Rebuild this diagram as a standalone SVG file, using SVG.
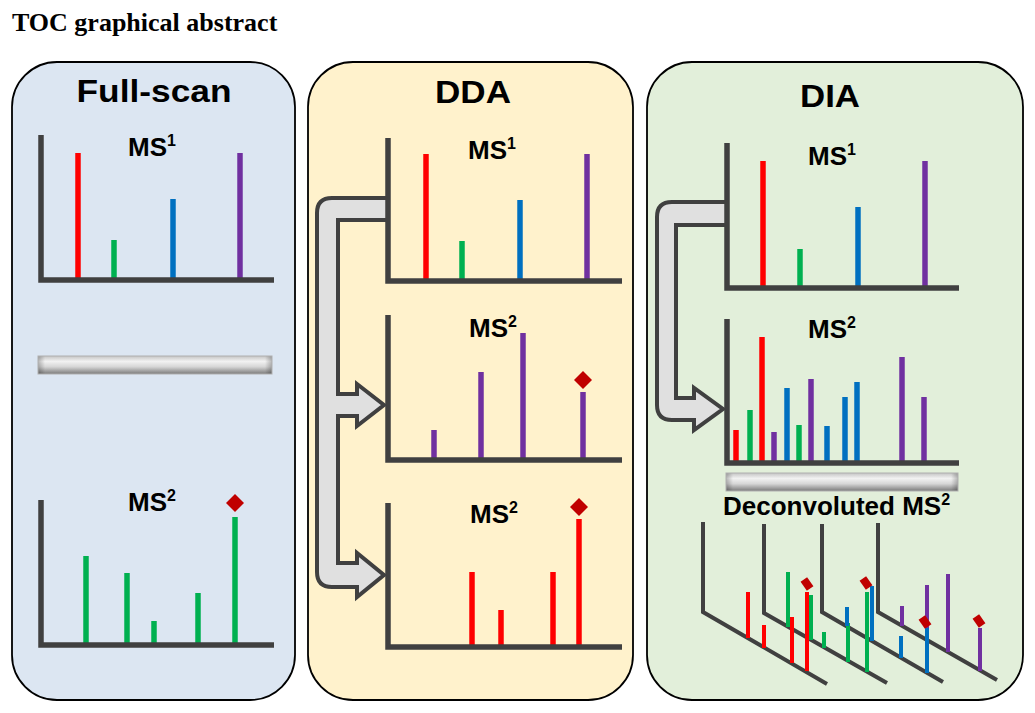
<svg xmlns="http://www.w3.org/2000/svg" width="1035" height="713" viewBox="0 0 1035 713">
<style>
.panel{stroke:#000;stroke-width:1.8}
.ptitle{font-family:"Liberation Sans",Arial,sans-serif;font-weight:bold;font-size:31px;fill:#000;text-anchor:middle}
.ms{font-family:"Liberation Sans",Arial,sans-serif;font-weight:bold;font-size:26px;fill:#000}
.sup{font-size:16px}
.axis{fill:none;stroke:#404040;stroke-width:5.5;stroke-linejoin:miter}
.axis3{fill:none;stroke:#404040;stroke-width:4;stroke-linejoin:miter}
.bar{stroke-width:5.5;fill:none}
.bar3{stroke-width:4;fill:none}
.r{stroke:#ff0000}.g{stroke:#00b050}.b{stroke:#0070c0}.p{stroke:#7030a0}
.dia{fill:#c00000}
.pipe{fill:#e0e0e0;stroke:#404040;stroke-width:4;stroke-linejoin:miter}
</style>
<defs>
<linearGradient id="cyl" x1="0" y1="0" x2="0" y2="1">
<stop offset="0" stop-color="#c4c4c4"/>
<stop offset="0.3" stop-color="#f2f2f2"/>
<stop offset="0.6" stop-color="#d6d6d6"/>
<stop offset="1" stop-color="#7a7a7a"/>
</linearGradient>
<linearGradient id="cylEnds" x1="0" y1="0" x2="1" y2="0">
<stop offset="0" stop-color="#000" stop-opacity="0.25"/>
<stop offset="0.03" stop-color="#000" stop-opacity="0"/>
<stop offset="0.97" stop-color="#000" stop-opacity="0"/>
<stop offset="1" stop-color="#000" stop-opacity="0.25"/>
</linearGradient>
<path id="dmd" d="M0,-9 L9,0 L0,9 L-9,0 Z"/>
</defs>
<rect width="1035" height="713" fill="#fff"/>
<text x="12" y="31" font-family="Liberation Serif,'Times New Roman',serif" font-weight="bold" font-size="26" fill="#000">TOC graphical abstract</text>

<g id="panel-fullscan">
<rect class="panel" x="12" y="62" width="283" height="638" rx="45" ry="45" fill="#dce6f2"/>
<text class="ptitle" x="154" y="102" textLength="155" lengthAdjust="spacingAndGlyphs">Full-scan</text>
</g>
<g id="panel-dda">
<rect class="panel" x="308" y="62" width="325" height="638" rx="45" ry="45" fill="#fff2cc"/>
<text class="ptitle" x="473" y="103" textLength="76" lengthAdjust="spacingAndGlyphs">DDA</text>
</g>
<g id="panel-dia">
<rect class="panel" x="647" y="62" width="376" height="638" rx="45" ry="45" fill="#e2efda"/>
<text class="ptitle" x="830" y="107" textLength="60" lengthAdjust="spacingAndGlyphs">DIA</text>
</g>

<g id="connectors">
<path class="pipe" d="M388,198 H332 Q317,198 317,213 V572 Q317,587 332,587 H357 V597 L384,575 L357,553 V563 H338 V416 H357 V426 L384,405 L357,384 V394 H338 V220 H388 Z"/>
<path class="pipe" d="M727,202 H672 Q657,202 657,217 V405 Q657,420 672,420 H694 V430 L723,409 L694,388 V398 H676 V225 H727 Z"/>
</g>

<g id="fs-ms1">
<text class="ms" x="128" y="156">MS<tspan class="sup" dy="-10">1</tspan></text>
<line class="bar r" x1="78" y1="153" x2="78" y2="278"/>
<line class="bar g" x1="114" y1="240" x2="114" y2="278"/>
<line class="bar b" x1="173" y1="199" x2="173" y2="278"/>
<line class="bar p" x1="240" y1="153" x2="240" y2="278"/>
<path class="axis" d="M41,135 V280 H274"/>
</g>
<g id="fs-column">
<rect x="38" y="356" width="234" height="18" fill="url(#cyl)"/>
<rect x="38" y="356" width="234" height="18" fill="url(#cylEnds)" stroke="#b0b0b0" stroke-width="1"/>
</g>
<g id="fs-ms2">
<text class="ms" x="128" y="511">MS<tspan class="sup" dy="-10">2</tspan></text>
<line class="bar g" x1="86" y1="556" x2="86" y2="643"/>
<line class="bar g" x1="127" y1="573" x2="127" y2="643"/>
<line class="bar g" x1="154" y1="621" x2="154" y2="643"/>
<line class="bar g" x1="198" y1="593" x2="198" y2="643"/>
<line class="bar g" x1="235" y1="517" x2="235" y2="643"/>
<use href="#dmd" class="dia" x="235" y="503"/>
<path class="axis" d="M41,500 V645 H274"/>
</g>

<g id="dda-ms1">
<text class="ms" x="468" y="159">MS<tspan class="sup" dy="-10">1</tspan></text>
<line class="bar r" x1="426" y1="154" x2="426" y2="279"/>
<line class="bar g" x1="462" y1="241" x2="462" y2="279"/>
<line class="bar b" x1="520" y1="200" x2="520" y2="279"/>
<line class="bar p" x1="587" y1="154" x2="587" y2="279"/>
<path class="axis" d="M388,138 V281 H622"/>
</g>
<g id="dda-ms2a">
<text class="ms" x="469" y="337">MS<tspan class="sup" dy="-10">2</tspan></text>
<line class="bar p" x1="434" y1="430" x2="434" y2="458"/>
<line class="bar p" x1="481" y1="372" x2="481" y2="458"/>
<line class="bar p" x1="523" y1="333" x2="523" y2="458"/>
<line class="bar p" x1="583" y1="392" x2="583" y2="458"/>
<use href="#dmd" class="dia" x="583" y="380"/>
<path class="axis" d="M388,315 V460 H622"/>
</g>
<g id="dda-ms2b">
<text class="ms" x="470" y="523">MS<tspan class="sup" dy="-10">2</tspan></text>
<line class="bar r" x1="472" y1="572" x2="472" y2="645"/>
<line class="bar r" x1="501" y1="610" x2="501" y2="645"/>
<line class="bar r" x1="553" y1="572" x2="553" y2="645"/>
<line class="bar r" x1="579" y1="519" x2="579" y2="645"/>
<use href="#dmd" class="dia" x="579" y="507"/>
<path class="axis" d="M388,503 V647 H622"/>
</g>

<g id="dia-ms1">
<text class="ms" x="808" y="165">MS<tspan class="sup" dy="-10">1</tspan></text>
<line class="bar r" x1="763" y1="161" x2="763" y2="286"/>
<line class="bar g" x1="800" y1="249" x2="800" y2="286"/>
<line class="bar b" x1="858" y1="207" x2="858" y2="286"/>
<line class="bar p" x1="925" y1="161" x2="925" y2="286"/>
<path class="axis" d="M727,143 V288 H959"/>
</g>
<g id="dia-ms2">
<text class="ms" x="808" y="338">MS<tspan class="sup" dy="-10">2</tspan></text>
<line class="bar r" x1="736" y1="430" x2="736" y2="461"/>
<line class="bar g" x1="750" y1="410" x2="750" y2="461"/>
<line class="bar r" x1="762" y1="337" x2="762" y2="461"/>
<line class="bar p" x1="774" y1="432" x2="774" y2="461"/>
<line class="bar b" x1="787" y1="388" x2="787" y2="461"/>
<line class="bar g" x1="799" y1="425" x2="799" y2="461"/>
<line class="bar p" x1="811" y1="379" x2="811" y2="461"/>
<line class="bar b" x1="827" y1="426" x2="827" y2="461"/>
<line class="bar b" x1="845" y1="397" x2="845" y2="461"/>
<line class="bar b" x1="857" y1="382" x2="857" y2="461"/>
<line class="bar p" x1="902" y1="357" x2="902" y2="461"/>
<line class="bar p" x1="924" y1="397" x2="924" y2="461"/>
<path class="axis" d="M727,319 V463 H959"/>
</g>
<g id="dia-column">
<rect x="726" y="473" width="232" height="18" fill="url(#cyl)"/>
<rect x="726" y="473" width="232" height="18" fill="url(#cylEnds)" stroke="#b0b0b0" stroke-width="1"/>
</g>
<g id="dia-deconvoluted">
<text class="ms" x="723" y="515" font-size="27">Deconvoluted MS<tspan class="sup" dy="-10">2</tspan></text>
<path class="axis3" d="M703,522 V612 L827,684"/>
<path class="axis3" d="M764,524 V613 L887,683"/>
<path class="axis3" d="M822,524 V612 L943,682"/>
<path class="axis3" d="M878,523 V612 L997,680"/>
<line class="bar3 r" x1="748" y1="592" x2="748" y2="638"/>
<line class="bar3 r" x1="764" y1="625" x2="764" y2="648"/>
<line class="bar3 r" x1="792" y1="617" x2="792" y2="663"/>
<line class="bar3 r" x1="807" y1="592" x2="807" y2="671"/>
<line class="bar3 g" x1="788" y1="572" x2="788" y2="627"/>
<line class="bar3 g" x1="811" y1="595" x2="811" y2="640"/>
<line class="bar3 g" x1="824" y1="632" x2="824" y2="648"/>
<line class="bar3 g" x1="848" y1="623" x2="848" y2="662"/>
<line class="bar3 g" x1="867" y1="592" x2="867" y2="672"/>
<line class="bar3 p" x1="902" y1="606" x2="902" y2="626"/>
<line class="bar3 p" x1="927" y1="585" x2="927" y2="640"/>
<line class="bar3 p" x1="948" y1="574" x2="948" y2="652"/>
<line class="bar3 p" x1="980" y1="628" x2="980" y2="671"/>
<line class="bar3 b" x1="847" y1="607" x2="847" y2="626"/>
<line class="bar3 b" x1="872" y1="586" x2="872" y2="641"/>
<line class="bar3 b" x1="901" y1="636" x2="901" y2="658"/>
<line class="bar3 b" x1="927" y1="628" x2="927" y2="673"/>
<rect class="dia" x="-4" y="-5.5" width="8" height="11" transform="translate(807,584) rotate(-35)"/>
<rect class="dia" x="-4" y="-5.5" width="8" height="11" transform="translate(866,583) rotate(-35)"/>
<rect class="dia" x="-4" y="-5.5" width="8" height="11" transform="translate(925,622) rotate(-35)"/>
<rect class="dia" x="-4" y="-5.5" width="8" height="11" transform="translate(979,621) rotate(-35)"/>
</g>
</svg>
